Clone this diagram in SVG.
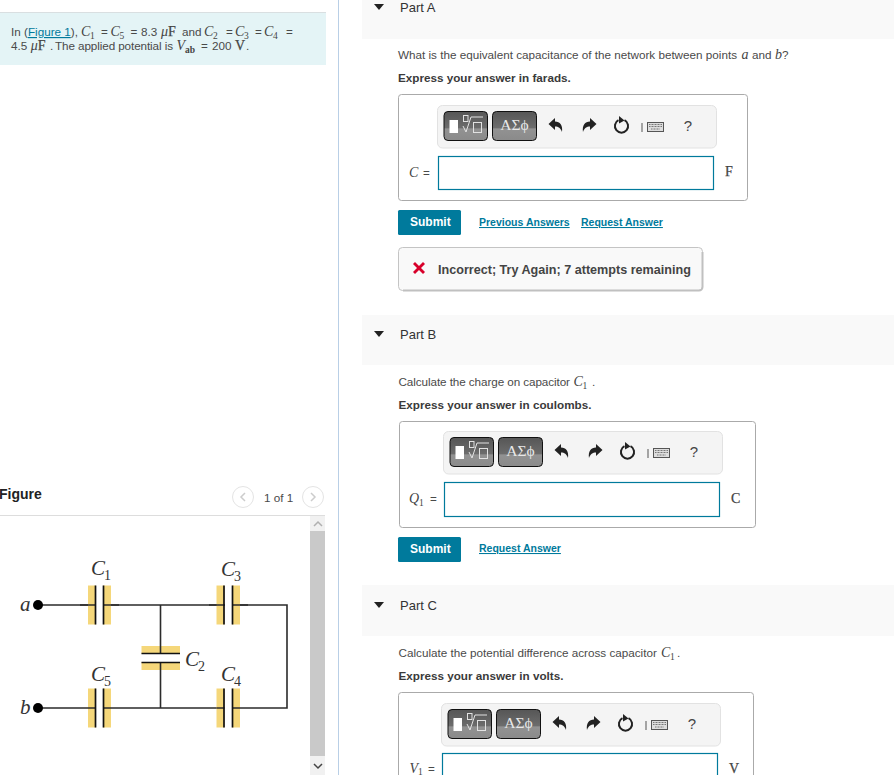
<svg xmlns="http://www.w3.org/2000/svg" xmlns:xlink="http://www.w3.org/1999/xlink" width="894" height="775" viewBox="0 0 894 775">
<style>
text{font-family:"Liberation Sans",Arial,sans-serif;font-size:11.7px;fill:#4a4a4a}
.m{font-family:"Liberation Serif","Times New Roman",serif;font-size:14px;fill:#444}
.i{font-style:italic}
.s{font-family:"Liberation Serif","Times New Roman",serif;font-size:9.5px;fill:#444}
.u{font-family:"Liberation Serif","Times New Roman",serif;font-size:14px;fill:#444;stroke:#444;stroke-width:.25}
.b{font-weight:bold;fill:#3a3a3a}
.h{font-size:13px;fill:#333}
.lk{fill:#007a9c;text-decoration:underline;font-size:10.5px;font-weight:bold}
.sub{fill:#fff;font-weight:bold;font-size:12px}
.band{fill:#f9f9f9}
.box{fill:#fff;stroke:#aaa;stroke-width:1}
.inp{fill:#fff;stroke:#007a9c;stroke-width:1.2}
.w{stroke:#2b2b2b;stroke-width:1.6;fill:none}
.pl{stroke:#111;stroke-width:1.7;fill:none}
.y{fill:#f5d77a}
.fg{font-family:"Liberation Serif",serif;font-size:21px;font-style:italic;fill:#333}
.fs{font-family:"Liberation Serif",serif;font-size:14px;fill:#333}
.g{fill:#222}
.ic{fill:none;stroke:#222;stroke-width:2}
.rd{fill:none;stroke:#e2e2e2;stroke-width:1}
</style>
<defs>
<linearGradient id="btn" x1="0" y1="0" x2="0" y2="1">
<stop offset="0" stop-color="#565656"/><stop offset=".56" stop-color="#6c6c6c"/><stop offset=".6" stop-color="#929292"/><stop offset="1" stop-color="#8a8a8a"/>
</linearGradient>
<g id="toolbar">
<rect x="437.5" y="105.5" width="279" height="42.5" rx="5" fill="#f4f4f4" stroke="#e2e2e2"/>
<rect x="444" y="111.500" width="43.500" height="29" rx="4" fill="url(#btn)" stroke="#111" stroke-width="1"/>
<rect x="449.500" y="120" width="8.500" height="13" fill="#fff"/>
<rect class="rd" x="463.500" y="115.500" width="4.500" height="6"/>
<path class="rd" d="M463 126l3 6 5-15h12"/>
<rect class="rd" x="473.500" y="122.500" width="8" height="10"/>
<rect x="492.500" y="111.500" width="44" height="29" rx="4" fill="url(#btn)" stroke="#111" stroke-width="1"/>
<text x="514.500" y="130" text-anchor="middle" style="font-family:'Liberation Serif',serif;font-size:15.500px;fill:#e8e8e8">ΑΣϕ</text>
<path d="M548.500 124l6.500-6v3.500c5 0 8 4 7 10.500-1.500-4-3.500-5.500-7-5.500v3.500z" class="g"/>
<path d="M596.500 124l-6.500-6v3.500c-5 0-8 4-7 10.500 1.500-4 3.500-5.500 7-5.500v3.500z" class="g"/>
<path d="M618.500 120.200a6.600 6.600 0 1 0 6 0" class="ic"/>
<path d="M619 116l5.500 4.500-5.500 3z" class="g"/>
<path d="M642 123v9" stroke="#555" stroke-width="1"/>
<rect x="647.500" y="122.500" width="16" height="9" fill="#ddd" stroke="#555" stroke-width="1"/>
<path d="M649 124.500h13M649 126.500h13M651 129h9" stroke="#777" stroke-width="1" stroke-dasharray="1 .5"/>
<text x="688" y="131" text-anchor="middle" style="font-size:15px;fill:#444">?</text>
</g>
</defs>
<rect width="894" height="775" fill="#fff"/>

<g id="problem-statement">
<rect x="0" y="13" width="326" height="52" fill="#e4f4f6"/>
<path d="M0 12.500h326" stroke="#d9dfe1"/>
<text x="11" y="36">In (<tspan class="lk" style="font-size:11.700px;font-weight:normal">Figure 1</tspan>),</text>
<text class="m i" x="81" y="36">C</text><text class="s" x="90" y="38.500">1</text>
<text x="101" y="36">=</text>
<text class="m i" x="110.500" y="36">C</text><text class="s" x="119.500" y="38.500">5</text>
<text x="130.500" y="36">=</text><text x="141" y="36">8.3</text>
<text class="m" x="161" y="36"><tspan class="i">μ</tspan><tspan class="u">F</tspan></text>
<text x="182" y="36">and</text>
<text class="m i" x="204" y="36">C</text><text class="s" x="213" y="38.500">2</text>
<text x="226" y="36">=</text>
<text class="m i" x="235" y="36">C</text><text class="s" x="244" y="38.500">3</text>
<text x="255" y="36">=</text>
<text class="m i" x="264" y="36">C</text><text class="s" x="273" y="38.500">4</text>
<text x="286" y="36">=</text>
<text x="11" y="50">4.5</text>
<text class="m" x="30.700" y="50"><tspan class="i">μ</tspan><tspan class="u">F</tspan></text>
<text x="50" y="50">.</text>
<text x="55" y="50" textLength="118">The applied potential is</text>
<text class="m i" x="176.500" y="50">V</text><text class="s" x="185" y="52.500" style="font-weight:bold">ab</text>
<text x="201" y="50">=</text><text x="212" y="50">200</text>
<text class="u" x="235" y="50">V</text>
<text x="246" y="50">.</text>
</g>

<path id="divider" d="M338.500 0V775" stroke="#b9cfe6"/>

<g id="figure-header">
<text x="-1" y="499" style="font-size:14px;font-weight:bold;fill:#222">Figure</text>
<circle cx="243" cy="497" r="10.500" fill="#fff" stroke="#e4e4e4"/>
<path d="M245 493l-4 4 4 4" fill="none" stroke="#ccc" stroke-width="1.500"/>
<text x="264" y="502">1 of 1</text>
<circle cx="313" cy="497" r="10.500" fill="#fff" stroke="#e4e4e4"/>
<path d="M311 493l4 4-4 4" fill="none" stroke="#ccc" stroke-width="1.500"/>
<path d="M0 515.500h325" stroke="#ddd"/>
</g>

<g id="scrollbar">
<rect x="310" y="516" width="15" height="259" fill="#f1f1f1"/>
<rect x="310" y="531" width="15" height="225" fill="#c9c9c9"/>
<path d="M314 526l4-4 4 4" fill="none" stroke="#b0b0b0" stroke-width="1.500"/>
<path d="M314 764l4 4 4-4" fill="none" stroke="#444" stroke-width="1.500"/>
</g>

<g id="connectors">
<path class="w" d="M38 605H287V708H38"/>
<path class="w" d="M160.500 605V708"/>
</g>
<g id="node-a"><circle cx="38" cy="605" r="5" fill="#000"/><text class="fg" x="20" y="611">a</text></g>
<g id="node-b"><circle cx="38" cy="708" r="5" fill="#000"/><text class="fg" x="20" y="714">b</text></g>
<g id="C1"><rect class="y" x="88" y="585.500" width="23" height="39"/><rect x="96" y="585" width="7" height="40" fill="#fff"/><path class="w" d="M80 605h16M103 605h16"/><path class="pl" d="M95.500 585.500v39M103.500 585.500v39"/><text class="fg" x="91" y="575">C</text><text class="fs" x="104" y="580">1</text></g>
<g id="C3"><rect class="y" x="216.500" y="585.500" width="23.500" height="39"/><rect x="224.500" y="585" width="7.500" height="40" fill="#fff"/><path class="w" d="M209 605h16M232 605h16"/><path class="pl" d="M224 585.500v39M232.500 585.500v39"/><text class="fg" x="221" y="576">C</text><text class="fs" x="234" y="581">3</text></g>
<g id="C2"><rect class="y" x="141.500" y="646" width="38.500" height="24"/><rect x="141" y="654" width="39" height="8" fill="#fff"/><path class="w" d="M160.500 646v8M160.500 662v8"/><path class="pl" d="M141.500 653.500h38.500M141.500 662.500h38.500"/><text class="fg" x="185" y="666">C</text><text class="fs" x="198" y="671">2</text></g>
<g id="C5"><rect class="y" x="88" y="688.500" width="23" height="39"/><rect x="96" y="688" width="7" height="40" fill="#fff"/><path class="w" d="M88 708h8M103 708h8"/><path class="pl" d="M95.500 688.500v39M103.500 688.500v39"/><text class="fg" x="91" y="681">C</text><text class="fs" x="104" y="686">5</text></g>
<g id="C4"><rect class="y" x="216.500" y="688.500" width="23.500" height="39"/><rect x="224.500" y="688" width="7.500" height="40" fill="#fff"/><path class="w" d="M216.500 708h8M232 708h8"/><path class="pl" d="M224 688.500v39M232.500 688.500v39"/><text class="fg" x="221" y="681">C</text><text class="fs" x="234" y="686">4</text></g>

<g id="part-a">
<rect class="band" x="362" y="0" width="532" height="39"/>
<path d="M374 4h10l-5 6z" fill="#222"/>
<text class="h" x="400" y="12">Part A</text>
<text x="398" y="59" textLength="339">What is the equivalent capacitance of the network between points</text>
<text class="m i" x="741.500" y="59">a</text><text x="752" y="59">and</text><text class="m i" x="775" y="59">b</text><text x="782" y="59">?</text>
<text class="b" x="398" y="82">Express your answer in farads.</text>
<rect class="box" x="398.500" y="94.500" width="349" height="106" rx="3"/>
<use href="#toolbar"/>
<text class="m i" x="409" y="177">C</text><text x="423" y="177">=</text>
<rect class="inp" x="438.500" y="156.500" width="275" height="33"/>
<text class="u" x="725" y="176">F</text>
<rect x="398" y="210" width="63" height="25" rx="1.500" fill="#007a9c"/>
<text class="sub" x="410" y="226">Submit</text>
<text class="lk" x="479" y="226">Previous Answers</text>
<text class="lk" x="581" y="226">Request Answer</text>
<rect x="398.500" y="247.500" width="304" height="43" rx="4" fill="#f9f9f9" stroke="#c4c4c4"/>
<path d="M403 290.500H699a3.500 3.500 0 0 0 3.500-3.500V252" fill="none" stroke="#c0c0c0" stroke-width="2"/>
<path d="M413 264l2-2 4 4 4-4 2 2-4 4 4 4-2 2-4-4-4 4-2-2 4-4z" fill="#d8002a"/>
<text x="438" y="274" style="font-size:12.600px;font-weight:bold;fill:#444">Incorrect; Try Again; 7 attempts remaining</text>
</g>

<g id="part-b">
<rect class="band" x="362" y="315" width="532" height="50"/>
<path d="M374 331h10l-5 6z" fill="#222"/>
<text class="h" x="400" y="339">Part B</text>
<text x="398.500" y="386" textLength="171.500">Calculate the charge on capacitor</text>
<text class="m i" x="573.500" y="386">C</text><text class="s" x="582.500" y="388.500">1</text><text x="592" y="386">.</text>
<text class="b" x="398.500" y="409">Express your answer in coulombs.</text>
<rect class="box" x="399.500" y="421.500" width="356" height="106" rx="3"/>
<use href="#toolbar" x="6" y="326"/>
<text class="m i" x="409" y="503">Q</text><text class="s" x="419" y="505.500">1</text><text x="430" y="503">=</text>
<rect class="inp" x="444.500" y="482.500" width="275" height="34"/>
<text class="u" x="731" y="503">C</text>
<rect x="398" y="537" width="63" height="25" rx="1.500" fill="#007a9c"/>
<text class="sub" x="410" y="553">Submit</text>
<text class="lk" x="479" y="552">Request Answer</text>
</g>

<g id="part-c">
<rect class="band" x="362" y="585" width="532" height="51"/>
<path d="M374 602h10l-5 6z" fill="#222"/>
<text class="h" x="400" y="610">Part C</text>
<text x="398.500" y="657">Calculate the potential difference across capacitor</text>
<text class="m i" x="661" y="657">C</text><text class="s" x="670" y="659.500">1</text><text x="677" y="657">.</text>
<text class="b" x="398.500" y="680">Express your answer in volts.</text>
<rect class="box" x="398.500" y="692.500" width="355" height="106" rx="3"/>
<use href="#toolbar" x="4" y="598"/>
<text class="m i" x="409.500" y="773">V</text><text class="s" x="418" y="775">1</text><text x="428" y="773">=</text>
<rect class="inp" x="442.500" y="753.500" width="275" height="34"/>
<text class="u" x="729" y="773">V</text>
</g>
</svg>
